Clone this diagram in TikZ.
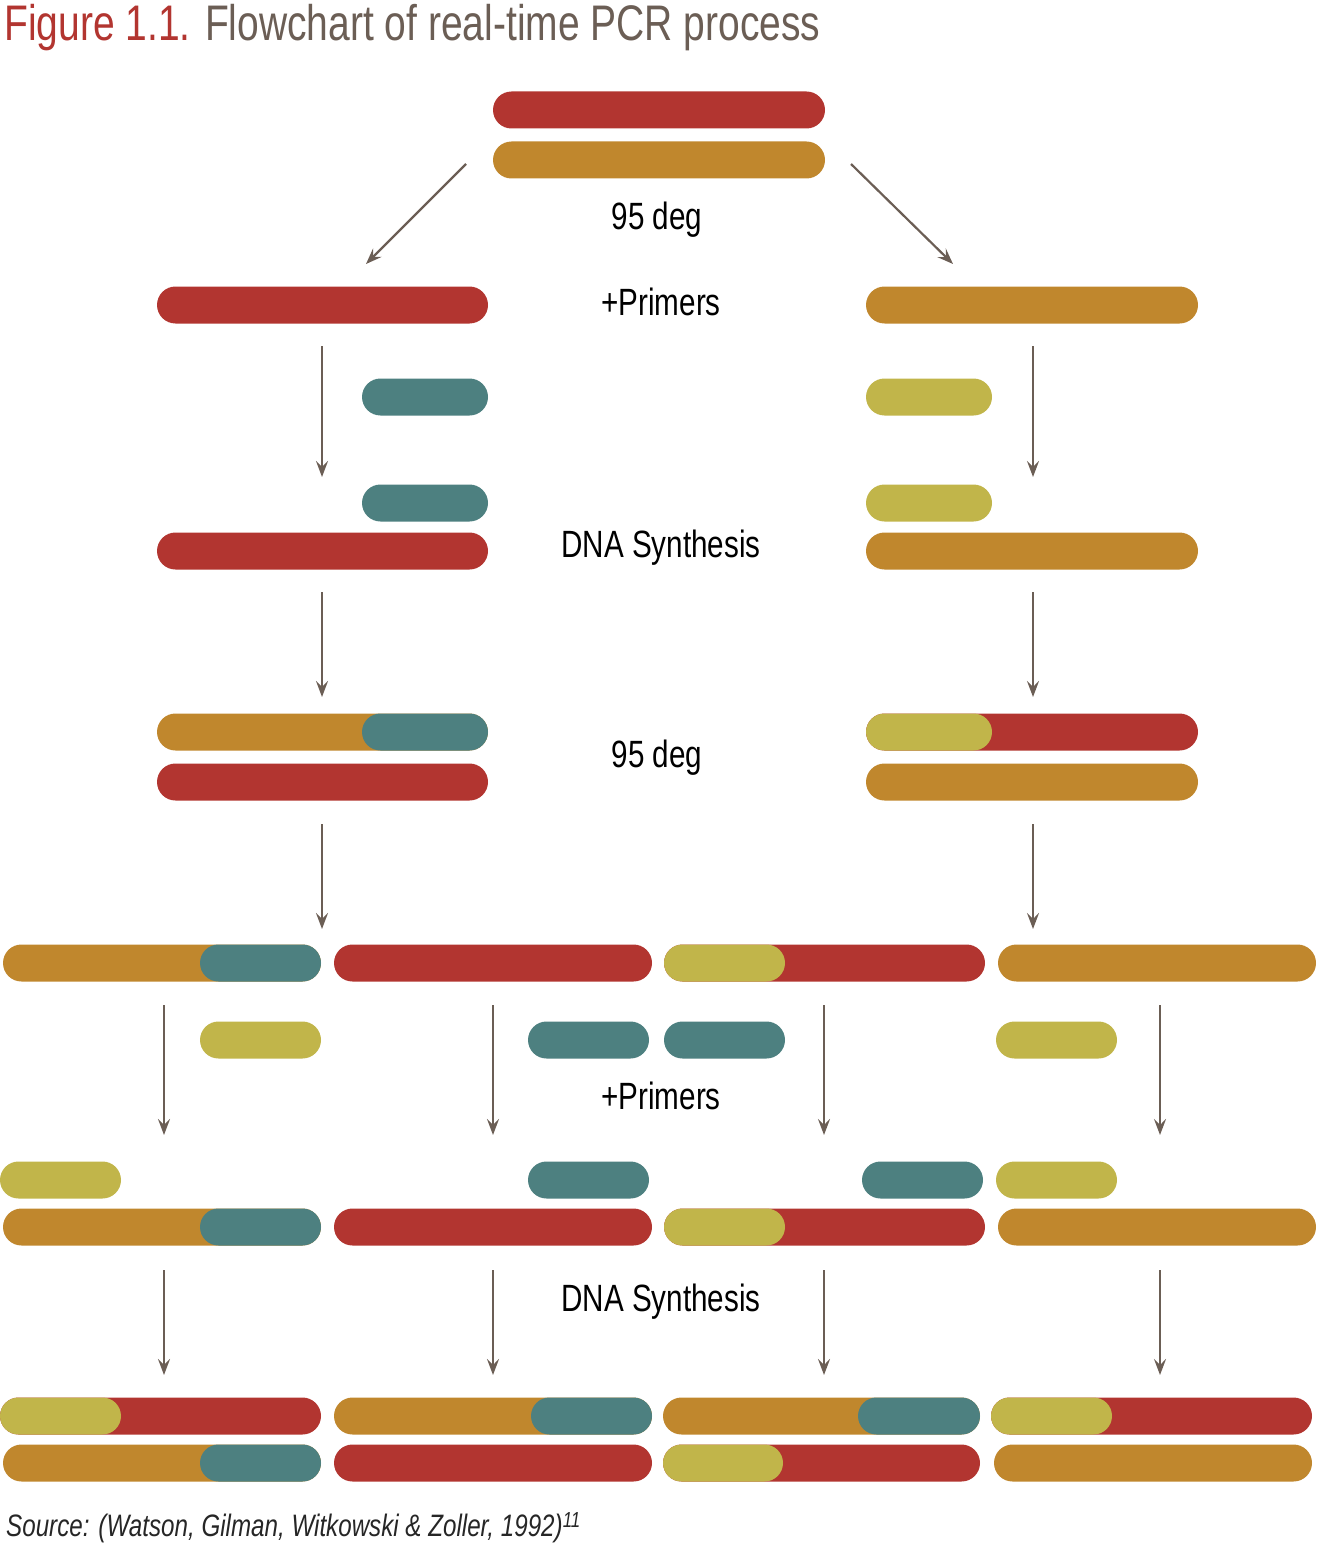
\documentclass[tikz,border=0pt]{standalone}
\usepackage{fontspec}
\setmainfont{Liberation Sans}[FakeStretch=0.78]
\usetikzlibrary{arrows.meta}
\definecolor{sred}{HTML}{B23530}
\definecolor{sorg}{HTML}{C0872D}
\definecolor{steal}{HTML}{4D8080}
\definecolor{syg}{HTML}{C1B54A}
\definecolor{sgray}{HTML}{6B5E55}
\newcommand{\strand}[5]{\node[strandst,fill=#5,minimum width={(#3-#2)*1pt}] (#1) at ({(#2+#3)/2},#4) {};}
\begin{document}
\begin{tikzpicture}[x=1pt,y=-1pt,
  strandst/.style={rectangle,rounded corners=18.5pt,inner sep=0pt,minimum height=37pt,draw=none},
  arr/.style={draw=sgray,line width=2.2pt,-{Stealth[length=16pt,width=12pt,inset=6pt]}},
  lab/.style={font=\fontsize{38}{40}\selectfont,text=black}]
\useasboundingbox (0,0) rectangle (1316,1562);
\node[anchor=west,font=\fontsize{50}{52}\selectfont,inner sep=0] (title) at (4,28) {\textcolor{sred}{Figure 1.1.} \textcolor{sgray}{Flowchart of real-time PCR process}};
% top
\strand{t1}{493}{825}{110}{sred}
\strand{t2}{493}{825}{160}{sorg}
% row2
\strand{a1}{157}{488}{305}{sred}
\strand{b1}{866}{1198}{305}{sorg}
\strand{a2}{362}{488}{397}{steal}
\strand{b2}{866}{992}{397}{syg}
\strand{a3}{362}{488}{503}{steal}
\strand{b3}{866}{992}{503}{syg}
\strand{a4}{157}{488}{551}{sred}
\strand{b4}{866}{1198}{551}{sorg}
\strand{a5}{157}{488}{732}{sorg}\strand{a5p}{362}{488}{732}{steal}
\strand{a6}{157}{488}{782}{sred}
\strand{b5}{866}{1198}{732}{sred}\strand{b5p}{866}{992}{732}{syg}
\strand{b6}{866}{1198}{782}{sorg}
% row 963
\strand{c1}{3}{321}{963}{sorg}\strand{c1p}{200}{321}{963}{steal}
\strand{c2}{334}{652}{963}{sred}
\strand{c3}{664}{985}{963}{sred}\strand{c3p}{664}{785}{963}{syg}
\strand{c4}{998}{1316}{963}{sorg}
% row 1040
\strand{d1}{200}{321}{1040}{syg}
\strand{d2}{528}{649}{1040}{steal}
\strand{d3}{664}{785}{1040}{steal}
\strand{d4}{996}{1117}{1040}{syg}
% row 1180
\strand{e1}{0}{121}{1180}{syg}
\strand{e2}{528}{649}{1180}{steal}
\strand{e3}{862}{983}{1180}{steal}
\strand{e4}{996}{1117}{1180}{syg}
% row 1227
\strand{f1}{3}{321}{1227}{sorg}\strand{f1p}{200}{321}{1227}{steal}
\strand{f2}{334}{652}{1227}{sred}
\strand{f3}{664}{985}{1227}{sred}\strand{f3p}{664}{785}{1227}{syg}
\strand{f4}{998}{1316}{1227}{sorg}
% row 1416
\strand{g1}{0}{321}{1416}{sred}\strand{g1p}{0}{121}{1416}{syg}
\strand{g2}{334}{652}{1416}{sorg}\strand{g2p}{531}{652}{1416}{steal}
\strand{g3}{663}{980}{1416}{sorg}\strand{g3p}{858}{980}{1416}{steal}
\strand{g4}{991}{1312}{1416}{sred}\strand{g4p}{991}{1112}{1416}{syg}
% row 1463
\strand{h1}{3}{321}{1463}{sorg}\strand{h1p}{200}{321}{1463}{steal}
\strand{h2}{334}{652}{1463}{sred}
\strand{h3}{663}{980}{1463}{sred}\strand{h3p}{663}{783}{1463}{syg}
\strand{h4}{994}{1312}{1463}{sorg}
% labels
\node[lab] (l1) at (657,220) {95 deg};
\node[lab] (l2) at (661,302) {+Primers};
\node[lab] (l3) at (661,548) {DNA Synthesis};
\node[lab] (l4) at (657,758) {95 deg};
\node[lab] (l5) at (661,1096) {+Primers};
\node[lab] (l6) at (661,1302) {DNA Synthesis};
\node[anchor=west,inner sep=0,font=\fontsize{31}{33}\selectfont\itshape,text=black!85] (src) at (6,1528) {Source: (Watson, Gilman, Witkowski \& Zoller, 1992)\textsuperscript{11}};
% arrows
\coordinate (p1) at (466,164); \coordinate (q1) at (366,264);
\coordinate (p2) at (851,164); \coordinate (q2) at (953,264);
\draw[arr] (p1) -- (q1);
\draw[arr] (p2) -- (q2);
\foreach \x in {322,1033}{
  \draw[arr] (\x,346) -- (\x,477);
  \draw[arr] (\x,592) -- (\x,697);
  \draw[arr] (\x,824) -- (\x,929);
}
\foreach \x in {164,493,824,1160}{
  \draw[arr] (\x,1005) -- (\x,1135);
  \draw[arr] (\x,1270) -- (\x,1375);
}
\end{tikzpicture}
\end{document}
